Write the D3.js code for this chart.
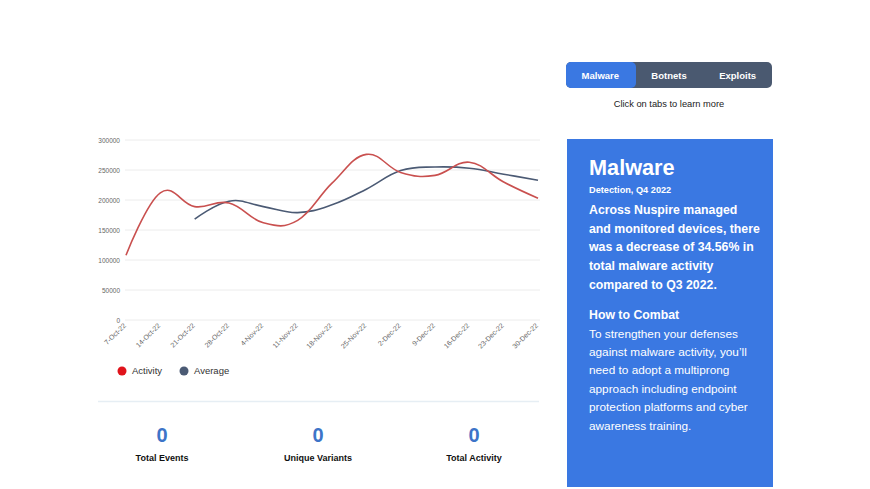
<!DOCTYPE html>
<html>
<head>
<meta charset="utf-8">
<script src="https://cdn.jsdelivr.net/npm/d3@7"></script>
<style>
  html, body { margin: 0; padding: 0; background: #fff; }
  svg { display: block; font-family: "Liberation Sans", Arial, Helvetica, sans-serif; }
</style>
</head>
<body>
<svg id="chart" width="870" height="489"></svg>
<script>
// ---- DATA ----
const weeks = ["7-Oct-22","14-Oct-22","21-Oct-22","28-Oct-22","4-Nov-22","11-Nov-22","18-Nov-22",
               "25-Nov-22","2-Dec-22","9-Dec-22","16-Dec-22","23-Dec-22","30-Dec-22"];
const activity = [108000, 212000, 189000, 195000, 162000, 166000, 228000, 276000, 246000, 241000, 263000, 230000, 203000];
const average  = [null, null, 168000, 198000, 189000, 179000, 192000, 218000, 249000, 255000, 253000, 243000, 233000];
const yTicks   = [0, 50000, 100000, 150000, 200000, 250000, 300000];

const tabs = ["Malware", "Botnets", "Exploits"];
const stats = [
  { label: "Total Events", value: 0 },
  { label: "Unique Variants", value: 0 },
  { label: "Total Activity", value: 0 }
];
const summaryLines = [
  "Across Nuspire managed",
  "and monitored devices, there",
  "was a decrease of 34.56% in",
  "total malware activity",
  "compared to Q3 2022."
];
const combatLines = [
  "To strengthen your defenses",
  "against malware activity, you\u2019ll",
  "need to adopt a multiprong",
  "approach including endpoint",
  "protection platforms and cyber",
  "awareness training."
];

const RED = "#c9504f", NAVY = "#4b5a74", BLUE = "#3a78e2";

const svg = d3.select("#chart");

// ---- line chart ----
const x = d3.scalePoint().domain(weeks).range([126, 538]);
const y = d3.scaleLinear().domain([0, 300000]).range([320, 140]);

// grid
svg.append("g")
  .selectAll("line")
  .data(yTicks)
  .join("line")
  .attr("x1", 125).attr("x2", 540)
  .attr("y1", d => y(d)).attr("y2", d => y(d))
  .attr("stroke", "#ececec").attr("stroke-width", 1);

// y axis labels
const yAxis = svg.append("g")
  .attr("transform", "translate(120,0)")
  .call(d3.axisLeft(y).tickValues(yTicks).tickSize(0).tickPadding(0).tickFormat(d3.format("d")));
yAxis.select(".domain").remove();
yAxis.selectAll("text").attr("fill", "#666").attr("font-size", 6.5);

// x axis labels
const xAxis = svg.append("g")
  .attr("transform", "translate(-3,323)")
  .call(d3.axisBottom(x).tickSize(0).tickPadding(0));
xAxis.select(".domain").remove();
xAxis.selectAll("text")
  .attr("fill", "#666").attr("font-size", 7)
  .attr("text-anchor", "end")
  .attr("dy", "0.6em")
  .attr("transform", "rotate(-45)");

const line = d3.line()
  .defined(d => d.v != null)
  .x(d => x(d.k)).y(d => y(d.v))
  .curve(d3.curveCardinal.tension(-0.2));

svg.append("path")
  .datum(weeks.map((k, i) => ({ k, v: average[i] })))
  .attr("d", line).attr("fill", "none")
  .attr("stroke", NAVY).attr("stroke-width", 1.6);

svg.append("path")
  .datum(weeks.map((k, i) => ({ k, v: activity[i] })))
  .attr("d", line).attr("fill", "none")
  .attr("stroke", RED).attr("stroke-width", 1.6);

// legend
const legend = [{ name: "Activity", c: "#e0131b" }, { name: "Average", c: NAVY }];
const lg = svg.append("g").selectAll("g").data(legend).join("g")
  .attr("transform", (d, i) => `translate(${122 + i * 62},371)`);
lg.append("circle").attr("r", 4.5).attr("fill", d => d.c);
lg.append("text").attr("x", 10).attr("dy", "0.35em")
  .attr("font-size", 9.5).attr("fill", "#333").text(d => d.name);

// divider
svg.append("line").attr("x1", 98).attr("x2", 539).attr("y1", 401.5).attr("y2", 401.5)
  .attr("stroke", "#e6eef4").attr("stroke-width", 1.5);

// stats
const sx = d3.scalePoint().domain(stats.map(s => s.label)).range([162, 474]);
const sg = svg.append("g").selectAll("g").data(stats).join("g")
  .attr("transform", d => `translate(${sx(d.label)},0)`);
sg.append("text").attr("y", 442).attr("text-anchor", "middle")
  .attr("font-size", 20).attr("font-weight", "bold").attr("fill", "#3d74c8").text(d => d.value);
sg.append("text").attr("y", 461).attr("text-anchor", "middle")
  .attr("font-size", 9).attr("font-weight", "bold").attr("fill", "#111").text(d => d.label);

// ---- tabs ----
const tabX = d3.scaleBand().domain(tabs).range([566, 772]);
svg.append("rect").attr("x", 566).attr("y", 62).attr("width", 206).attr("height", 26)
  .attr("rx", 5).attr("fill", "#4a5970");
svg.append("rect").attr("x", 566).attr("y", 62).attr("width", 70).attr("height", 26)
  .attr("rx", 5).attr("fill", BLUE);
svg.append("g").selectAll("text").data(tabs).join("text")
  .attr("x", d => tabX(d) + tabX.bandwidth() / 2)
  .attr("y", 79).attr("text-anchor", "middle")
  .attr("font-size", 9.5).attr("font-weight", "bold").attr("fill", "#fff").text(d => d);
svg.append("text").attr("x", 669).attr("y", 107).attr("text-anchor", "middle")
  .attr("font-size", 9.3).attr("fill", "#222").text("Click on tabs to learn more");

// ---- info card ----
svg.append("rect").attr("x", 567).attr("y", 139).attr("width", 206).attr("height", 348).attr("fill", BLUE);
svg.append("text").attr("x", 589).attr("y", 175).attr("font-size", 21.7).attr("font-weight", "bold")
  .attr("fill", "#fff").text("Malware");
svg.append("text").attr("x", 589).attr("y", 193).attr("font-size", 9.2).attr("font-weight", "bold")
  .attr("fill", "#fff").text("Detection, Q4 2022");
svg.append("g").selectAll("text").data(summaryLines).join("text")
  .attr("x", 589).attr("y", (d, i) => 214 + i * 18.7)
  .attr("font-size", 12.3).attr("font-weight", "bold").attr("fill", "#fff").text(d => d);
svg.append("text").attr("x", 589).attr("y", 319).attr("font-size", 12.3).attr("font-weight", "bold")
  .attr("fill", "#fff").text("How to Combat");
svg.append("g").selectAll("text").data(combatLines).join("text")
  .attr("x", 589).attr("y", (d, i) => 337.5 + i * 18.4)
  .attr("font-size", 11.8).attr("fill", "#fff").text(d => d);
</script>
</body>
</html>
